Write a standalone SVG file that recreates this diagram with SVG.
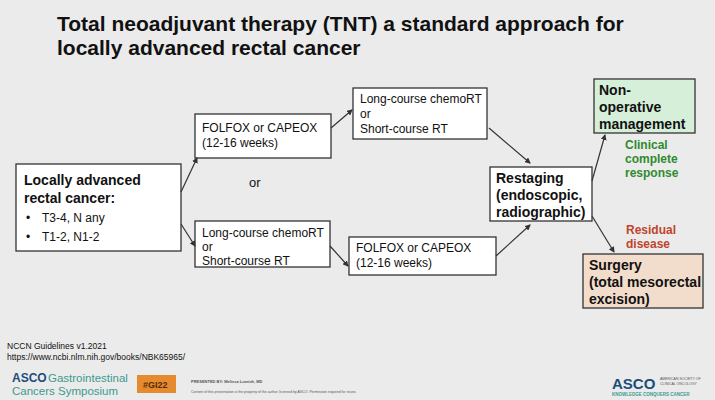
<svg xmlns="http://www.w3.org/2000/svg" width="715" height="400" viewBox="0 0 715 400">
<defs>
<marker id="ah" markerWidth="6" markerHeight="6" refX="5" refY="3" orient="auto" markerUnits="userSpaceOnUse"><path d="M0,0 L6,3 L0,6 z" fill="#333"/></marker>
<style>
text{font-family:"Liberation Sans",Arial,sans-serif;fill:#111}
.t{font-size:21px;font-weight:bold}
.b{font-size:14px;font-weight:bold}
.n{font-size:12px}
.box{fill:#fff;stroke:#333;stroke-width:1.3}
.c line{stroke:#333;stroke-width:1.2;marker-end:url(#ah)}
</style>
</defs>
<rect width="715" height="400" fill="#ebebeb"/>
<text class="t" x="57" y="31">Total neoadjuvant therapy (TNT) a standard approach for</text>
<text class="t" x="57" y="55">locally advanced rectal cancer</text>
<g id="start"><rect class="box" x="16" y="164" width="165" height="87"/>
<text class="b" x="24" y="185">Locally advanced</text><text class="b" x="24" y="203">rectal cancer:</text>
<text class="n" x="26" y="222">•</text><text class="n" x="42" y="222">T3-4, N any</text><text class="n" x="26" y="241">•</text><text class="n" x="42" y="241">T1-2, N1-2</text></g>
<g id="folfox1"><rect class="box" x="195" y="114" width="136" height="44"/>
<text class="n" x="202" y="132">FOLFOX or CAPEOX</text><text class="n" x="202" y="147">(12-16 weeks)</text></g>
<g id="crt1"><rect class="box" x="353" y="88" width="134" height="51"/>
<text class="n" x="360" y="103">Long-course chemoRT</text><text class="n" x="360" y="118">or</text><text class="n" x="360" y="133">Short-course RT</text></g>
<text x="249" y="187" style="font-size:13px">or</text>
<g id="crt2"><rect class="box" x="195" y="221" width="135" height="46"/>
<text class="n" x="202" y="237">Long-course chemoRT</text><text class="n" x="202" y="251">or</text><text class="n" x="202" y="265">Short-course RT</text></g>
<g id="folfox2"><rect class="box" x="349" y="237" width="147" height="38"/>
<text class="n" x="356" y="252">FOLFOX or CAPEOX</text><text class="n" x="356" y="267">(12-16 weeks)</text></g>
<g id="restaging"><rect class="box" x="490" y="167" width="102" height="54"/>
<text class="b" x="496" y="183">Restaging</text><text class="b" x="496" y="200">(endoscopic,</text><text class="b" x="496" y="217">radiographic)</text></g>
<g id="nonop"><rect class="box" x="594" y="79" width="101" height="54" style="fill:#d5efd8"/>
<text class="b" x="599" y="95">Non-</text><text class="b" x="599" y="112">operative</text><text class="b" x="599" y="129">management</text></g>
<g id="surgery"><rect class="box" x="583" y="254" width="120" height="54" style="fill:#f2dccb"/>
<text class="b" x="589" y="270">Surgery</text><text class="b" x="589" y="287">(total mesorectal</text><text class="b" x="589" y="304">excision)</text></g>
<g style="font-size:12px;font-weight:bold"><text x="625" y="149" style="fill:#2e8b2e">Clinical</text><text x="625" y="163" style="fill:#2e8b2e">complete</text><text x="625" y="177" style="fill:#2e8b2e">response</text>
<text x="626" y="234" style="fill:#c0442a">Residual</text><text x="626" y="248" style="fill:#c0442a">disease</text></g>
<g class="c" id="connectors">
<line x1="181" y1="192" x2="197" y2="158"/>
<line x1="181" y1="224" x2="195" y2="246"/>
<line x1="331" y1="128" x2="352" y2="110"/>
<line x1="330" y1="246" x2="348" y2="266"/>
<line x1="489" y1="128" x2="530" y2="163"/>
<line x1="496" y1="256" x2="530" y2="225"/>
<line x1="592" y1="181" x2="605" y2="135"/>
<line x1="592" y1="216" x2="614" y2="252"/>
</g>
<text x="7" y="349" style="font-size:8.5px">NCCN Guidelines v1.2021</text>
<text x="7" y="360" style="font-size:8.5px">https://www.ncbi.nlm.nih.gov/books/NBK65965/</text>
<text x="12" y="382" style="font-size:12px;font-weight:bold;fill:#1b4d7a">ASCO</text>
<text x="48" y="382" style="font-size:11.5px;fill:#3b9a8e">Gastrointestinal</text>
<text x="12" y="395" style="font-size:11.5px;fill:#3b9a8e">Cancers Symposium</text>
<rect x="137" y="375" width="39" height="18" fill="#e58a2e"/>
<text x="143" y="388" style="font-size:9px;font-weight:bold;fill:#5a2a00">#GI22</text>
<text x="191" y="383" style="font-size:4px;font-weight:bold;fill:#555">PRESENTED BY: Melissa Lumish, MD</text>
<text x="191" y="393" style="font-size:3.5px;fill:#555">Content of this presentation is the property of the author, licensed by ASCO. Permission required for reuse.</text>
<text x="612" y="389" style="font-size:15px;font-weight:bold;fill:#1b4d7a">ASCO</text>
<text x="660" y="380" style="font-size:3.5px;fill:#555">AMERICAN SOCIETY OF</text>
<text x="660" y="385" style="font-size:3.5px;fill:#555">CLINICAL ONCOLOGY</text>
<text x="612" y="396" style="font-size:4.5px;font-weight:bold;fill:#3b9a8e">KNOWLEDGE CONQUERS CANCER</text>
</svg>
